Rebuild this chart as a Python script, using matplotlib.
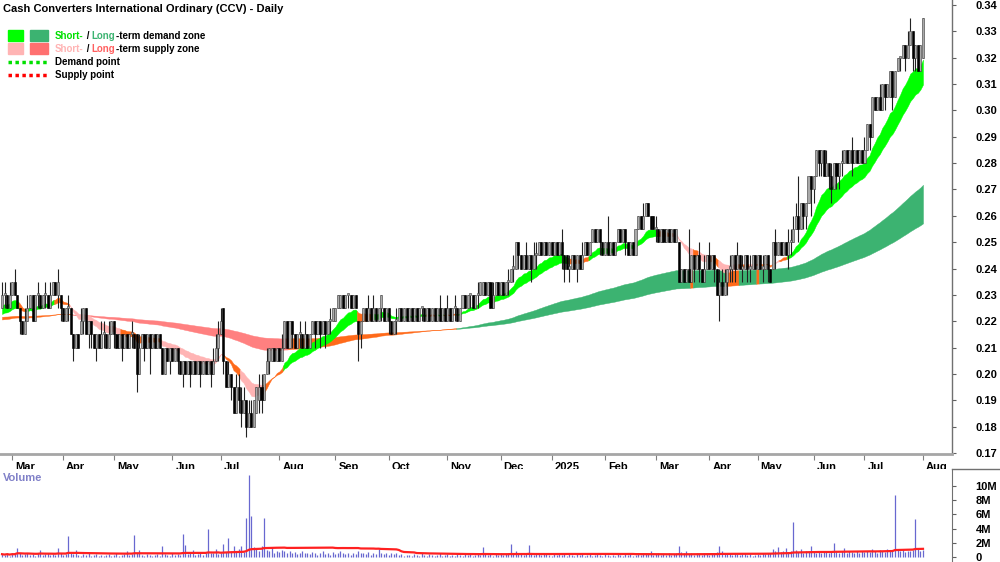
import numpy as np
import pandas as pd
import matplotlib
matplotlib.use("Agg")
import matplotlib.pyplot as plt
import matplotlib.transforms as mtransforms
from matplotlib.patches import Rectangle
from matplotlib.lines import Line2D

plt.rcParams['font.family'] = ['Liberation Sans', 'DejaVu Sans']

# ---------------- data (prices in tenths of a cent) ----------------
holidays = ['2024-03-29', '2024-04-01', '2024-04-25', '2024-06-10', '2024-12-25',
            '2024-12-26', '2025-01-01', '2025-01-27', '2025-04-18', '2025-04-21',
            '2025-04-25', '2025-06-09']

opens = [225,230,230,225,230,235,230,225,220,215, 220,225,230,220,230,230,225,230,230,225,
         230,235,230,230,225,220,225,225,215,210, 215,215,220,225,215,220,215,210,215,210,
         215,215,210,215,220,215,210,215,210,215, 210,215,215,215,200,210,215,210,215,210,
         215,210,215,210,200,210,205,210,205,210, 205,200,205,200,205,200,205,200,205,200,
         205,200,205,200,205,210,215,225,205,195, 200,195,185,195,190,185,190,180,185,180,
         185,190,195,190,200,205,205,210,205,210, 205,210,220,210,220,215,210,215,215,210,
         215,210,215,220,215,220,215,220,215,220, 220,220,225,225,230,225,230,230,225,230,
         220,215,220,225,220,225,220,225,220,225, 225,220,225,220,215,220,220,225,220,225,
         220,225,220,225,220,225,225,220,225,220, 225,220,225,220,225,220,225,220,225,225,
         220,225,230,225,230,230,225,230,230,230, 235,230,235,225,230,235,230,235,230,235,
         235,240,240,250,245,240,245,240,245,240, 245,245,250,245,250,245,250,245,250,245,
         250,245,245,240,240,245,240,245,240,245, 250,245,250,255,250,255,250,245,250,245,
         250,245,250,255,250,255,250,245,250,245, 255,260,255,260,265,260,260,255,255,250,
         255,250,255,250,255,250,250,235,240,235, 240,235,245,240,245,240,235,240,245,240,
         245,240,230,235,230,235,240,240,245,240, 245,240,240,245,240,240,245,240,245,240,
         240,245,240,240,250,245,250,245,250,245, 250,250,255,260,255,265,260,265,275,270,
         275,285,280,285,275,280,275,270,280,275, 280,280,285,280,285,280,285,280,285,280,
         285,295,290,305,300,305,300,310,305,305, 315,305,315,320,320,325,320,325,330,320,
         325,315,320]
closes = [230,230,225,230,235,230,225,220,215,220, 225,230,220,230,230,225,230,230,225,230,
          235,230,235,225,220,225,225,215,210,215, 210,220,225,215,220,215,210,215,210,215,
          215,210,215,220,215,210,215,210,215,210, 215,215,210,200,210,215,210,215,210,215,
          210,215,210,200,210,205,210,205,210,205, 200,205,200,205,200,205,200,205,200,205,
          200,205,200,205,210,215,220,205,195,200, 195,185,195,190,185,190,180,185,180,190,
          195,195,190,200,205,210,210,205,210,205, 210,220,210,220,215,210,215,215,210,215,
          210,215,220,215,220,215,220,215,220,220, 225,225,230,230,225,230,230,225,230,225,
          215,220,225,220,225,220,225,220,225,230, 220,225,220,215,220,220,225,220,225,220,
          225,220,225,220,225,225,220,225,220,225, 220,225,220,225,220,225,220,225,225,220,
          225,230,225,230,230,225,230,230,235,235, 230,235,225,230,235,230,235,230,235,235,
          240,240,250,245,240,245,240,245,240,245, 245,250,245,250,245,250,245,250,245,250,
          245,240,240,240,245,240,245,240,245,250, 245,250,255,250,255,250,245,250,245,250,
          245,250,255,250,255,250,245,250,245,255, 260,255,260,265,260,255,255,255,250,255,
          250,255,250,255,250,255,235,240,235,240, 235,245,240,245,240,235,240,245,240,245,
          240,230,235,230,235,240,240,245,240,245, 240,240,245,240,240,245,240,245,240,240,
          245,240,235,250,245,250,245,250,245,250, 250,255,260,255,265,260,265,275,270,275,
          285,280,285,275,280,275,270,280,275,280, 280,285,280,285,280,285,280,285,280,285,
          295,290,305,300,305,300,310,305,310,315, 305,315,320,320,325,320,325,330,320,325,
          315,325,335]
highs = [235,235,230,235,235,240,230,225,220,225, 230,230,230,230,235,230,230,235,230,235,
         235,235,240,230,225,225,230,225,215,215, 215,225,225,225,220,220,215,215,215,220,
         220,215,220,220,220,215,215,215,215,215, 215,220,215,215,215,215,215,215,215,215,
         215,215,215,210,210,210,210,210,210,210, 205,205,205,205,205,205,205,205,205,205,
         205,205,205,210,215,220,225,225,205,205, 200,195,200,200,195,195,190,190,190,190,
         195,200,200,200,210,210,210,210,210,210, 215,220,220,220,220,215,215,220,215,220,
         215,215,220,220,220,220,220,220,220,225, 225,225,230,230,230,230,230,230,230,230,
         220,220,225,225,230,225,230,225,225,230, 225,225,225,220,220,225,225,225,225,225,
         225,225,225,225,225,225,225,225,225,225, 225,225,230,225,225,230,225,225,230,225,
         225,230,230,230,230,230,230,235,235,235, 235,235,235,235,235,235,235,235,235,240,
         240,245,250,250,245,245,250,245,245,250, 250,250,250,250,250,250,250,250,250,250,
         255,245,245,245,245,245,245,245,250,250, 250,250,255,255,255,255,250,250,260,250,
         250,250,255,255,255,255,250,250,250,255, 260,260,265,265,265,260,260,260,255,255,
         255,255,255,255,255,255,250,240,240,240, 255,245,245,245,250,240,245,245,250,245,
         245,240,240,240,240,240,245,245,245,250, 245,245,245,245,245,245,245,245,245,245,
         245,245,240,250,255,250,250,250,250,255, 255,260,265,275,265,265,265,275,275,275,
         285,285,285,285,285,280,280,280,280,280, 285,285,285,285,290,285,285,285,285,290,
         295,295,305,305,305,310,310,310,310,315, 315,315,320,320,325,325,330,335,330,325,
         325,325,335]
lows = [225,225,225,225,230,230,225,215,215,215, 220,225,220,220,225,225,225,225,225,225,
        230,230,225,220,220,220,220,215,205,210, 210,215,215,215,210,210,210,205,210,210,
        210,210,210,215,210,210,210,205,210,210, 210,210,210,193,200,210,205,210,200,210,
        210,210,210,200,200,205,200,205,205,200, 200,195,200,200,195,200,200,200,195,200,
        200,200,195,200,205,205,215,200,195,195, 190,185,185,185,180,185,176,180,180,180,
        185,185,185,190,200,200,205,205,205,205, 205,210,210,210,210,210,210,210,210,210,
        210,210,215,210,215,210,215,210,215,215, 220,220,225,225,225,225,225,225,225,225,
        205,210,220,220,220,220,220,220,220,220, 220,220,215,215,215,215,220,220,220,220,
        220,220,220,220,220,220,220,220,220,220, 220,220,220,220,220,220,220,220,220,220,
        220,225,225,225,225,225,225,225,230,230, 230,230,225,225,230,230,230,230,230,230,
        235,235,240,240,240,240,240,240,235,240, 240,245,245,245,245,245,245,245,245,245,
        240,235,240,235,240,240,235,240,240,245, 245,245,250,250,250,245,245,245,245,245,
        245,245,250,250,250,245,245,245,245,245, 255,255,255,260,260,255,255,250,250,250,
        250,250,250,250,250,250,235,235,235,235, 235,235,235,240,235,235,235,240,240,240,
        235,230,220,230,230,230,235,235,235,240, 240,235,240,235,235,240,240,240,240,235,
        240,235,235,240,240,245,245,245,245,240, 245,250,255,250,255,255,255,265,260,265,
        275,275,275,275,275,270,265,270,270,270, 275,280,280,280,275,280,280,280,280,280,
        285,285,290,300,300,300,300,300,305,305, 300,305,315,315,320,315,320,325,315,315,
        315,315,320]
# daily volume in units of 0.1M shares
volume = [4,3,5,2,6,4,13,5,3,4, 6,3,4,2,5,10,3,4,6,3,
          4,3,13,5,3,4,30,6,4,10, 3,2,4,3,5,2,3,4,2,3,
          2,3,4,2,3,5,2,3,4,8, 3,4,31,5,10,3,2,4,3,2,
          3,4,2,15,4,3,2,5,3,4, 3,33,17,4,5,10,3,4,6,3,
          5,40,6,5,12,4,6,18,7,27, 8,15,9,12,16,7,55,115,58,14,
          12,9,15,55,10,8,14,6,9,7, 10,8,6,9,5,7,4,6,8,5,
          6,4,7,5,3,6,8,4,5,3, 7,4,6,9,5,4,6,3,5,4,
          8,5,6,4,7,3,5,4,12,6, 4,5,3,6,4,5,3,4,2,3,
          3,2,4,3,2,5,3,2,4,3, 2,3,5,2,3,4,2,3,2,4,
          3,2,4,3,5,2,3,4,3,14, 4,3,5,2,4,3,6,3,4,5,
          19,5,8,4,6,3,5,17,4,3, 5,4,3,6,4,3,2,5,3,4,
          3,4,2,5,3,2,4,3,5,2, 3,4,2,3,5,3,2,4,3,2,
          3,2,4,3,2,5,3,4,2,3, 4,3,5,6,4,8,3,4,5,3,
          4,3,5,3,4,6,15,7,5,9, 4,6,3,5,4,3,6,4,3,5,
          4,7,16,8,5,4,6,3,5,4, 3,4,5,3,4,2,3,4,3,5,
          4,5,6,12,8,14,7,9,13,6, 8,50,10,7,12,6,9,8,16,7,
          6,8,5,9,7,6,8,20,7,6, 9,13,6,8,7,5,9,6,8,7,
          9,7,11,8,6,10,9,7,12,8, 9,88,10,8,11,7,9,8,10,54, 12,8,10]

# zone colouring: (first bar, state) D=demand, S=supply, N=neutral
short_runs = [(0,'D'),(7,'N'),(10,'D'),(21,'N'),(27,'S'),(47,'N'),(63,'S'),(87,'N'),
              (94,'S'),(103,'N'),(111,'D'),(140,'N'),(146,'D'),(167,'N'),(171,'D'),
              (174,'N'),(179,'D'),(193,'N'),(194,'D'),(223,'N'),(231,'D'),(258,'N'),
              (264,'S'),(272,'N'),(274,'S'),(279,'N'),(282,'S'),(289,'N'),(294,'S'),
              (297,'N'),(303,'S'),(306,'N'),(309,'D')]
long_runs = [(0,'N'),(28,'S'),(113,'N'),(179,'D'),(271,'N'),(272,'D'),(285,'N'),
             (290,'D'),(297,'N'),(298,'D')]
short_periods = (15, 28)
long_periods = (130, 230)
short_seed = (0.2254, 0.2222)
long_seed = (0.2205, 0.2216)

month_labels = ['Mar','Apr','May','Jun','Jul','Aug','Sep','Oct','Nov','Dec',
                '2025','Feb','Mar','Apr','May','Jun','Jul','Aug']
price_ticks = [0.17,0.18,0.19,0.20,0.21,0.22,0.23,0.24,0.25,0.26,0.27,0.28,0.29,
               0.30,0.31,0.32,0.33,0.34]
vol_ticks = [0, 2, 4, 6, 8, 10]
vol_tick_labels = ['0', '2M', '4M', '6M', '8M', '10M']

# ---------------- preparation ----------------
dates = pd.bdate_range('2024-02-26', '2025-08-01', freq='C', holidays=holidays)
n = min(len(dates), len(closes))
o = np.array(opens[:n]) / 1000.0
c = np.array(closes[:n]) / 1000.0
h = np.array(highs[:n]) / 1000.0
l = np.array(lows[:n]) / 1000.0
v = np.array(volume[:n]) / 10.0
x = np.arange(n)

def ema(vals, period, seed):
    a = 2.0 / (period + 1)
    out = np.empty(len(vals))
    e = seed
    for i, val in enumerate(vals):
        e = e + a * (val - e)
        out[i] = e
    return out

sf = ema(c, short_periods[0], short_seed[0]); ss = ema(c, short_periods[1], short_seed[1])
lf = ema(c, long_periods[0], long_seed[0]); ls = ema(c, long_periods[1], long_seed[1])

def states(runs, n):
    st = [''] * n
    for k, (start, s) in enumerate(runs):
        end = runs[k+1][0] if k + 1 < len(runs) else n
        for i in range(start, min(end, n)):
            st[i] = s
    return st

short_cols = {'D': '#00ff00', 'S': '#ffb4b4', 'N': '#ff6a1a'}
long_cols = {'D': '#3cb371', 'S': '#ff8080', 'N': '#ff6a1a'}

fig = plt.figure(figsize=(10, 5.62), dpi=100)
ax = fig.add_axes([0, 1 - 454/562, 0.952, 454/562])
axv = fig.add_axes([0, 0, 0.952, (562 - 469)/562])

def draw_band(a, b, runs, cols):
    top = np.maximum(a, b); bot = np.minimum(a, b)
    st = states(runs, n)
    i = 0
    while i < n:
        j = i
        while j + 1 < n and st[j+1] == st[i]:
            j += 1
        if i > 0:
            xs = np.concatenate([[x[i] - 0.5], x[i:j+1]])
            tt = np.concatenate([[(top[i-1] + top[i]) / 2], top[i:j+1]])
            bb = np.concatenate([[(bot[i-1] + bot[i]) / 2], bot[i:j+1]])
        else:
            xs = x[i:j+1]; tt = top[i:j+1]; bb = bot[i:j+1]
        if j + 1 < n:
            xs = np.concatenate([xs, [x[j] + 0.5]])
            tt = np.concatenate([tt, [(top[j] + top[j+1]) / 2]])
            bb = np.concatenate([bb, [(bot[j] + bot[j+1]) / 2]])
        ax.fill_between(xs, bb, tt, color=cols[st[i]], lw=0.3, ec=cols[st[i]], zorder=2)
        i = j + 1

draw_band(lf, ls, long_runs, long_cols)
draw_band(sf, ss, short_runs, short_cols)

# candles
ax.vlines(x, l, h, color='#222222', lw=0.8, zorder=3)
up = c >= o
body_lo = np.minimum(o, c)
body_h = np.maximum(np.abs(c - o), 0.0008)
ax.bar(x[up], body_h[up], bottom=body_lo[up], width=0.8, color='#a9a9a9',
       edgecolor='#3a3a3a', linewidth=0.4, zorder=4)
ax.bar(x[~up], body_h[~up], bottom=body_lo[~up], width=0.8, color='#000000',
       edgecolor='#000000', linewidth=0.4, zorder=4)

xmin, xmax = -0.79, (950) / (921 / (n - 1))
ax.set_xlim(xmin, xmax)
ax.set_ylim(0.34 - 449/2635, 0.34 + 5/2635)

# month ticks
mt = []
for m in pd.date_range('2024-03-01', '2025-08-01', freq='MS'):
    idx = int(np.searchsorted(dates[:n], m))
    mt.append(idx)
ax.set_xticks(mt)
ax.set_xticklabels(month_labels[:len(mt)], ha='left', fontsize=8, fontweight='bold')
ax.tick_params(axis='x', direction='out', length=4, color='#808080', pad=2)
shift = mtransforms.ScaledTranslation(3/100, 0, fig.dpi_scale_trans)
for lab in ax.get_xticklabels():
    lab.set_transform(lab.get_transform() + shift)

ax.yaxis.tick_right()
ax.set_yticks(price_ticks)
ax.set_yticklabels(['%.2f' % t for t in price_ticks], fontsize=8, fontweight='bold')
ax.tick_params(axis='y', direction='out', length=3, color='#606060', pad=14)
for s in ['top', 'left']:
    ax.spines[s].set_visible(False)
ax.spines['bottom'].set_color('#a6a6a6'); ax.spines['bottom'].set_linewidth(2)
ax.spines['right'].set_color('#707070'); ax.spines['right'].set_linewidth(1)

# volume
axv.vlines(x, 0, v, color='#6868d0', lw=0.9)
vma = pd.Series(v).rolling(60, min_periods=1).mean().values
axv.plot(x, vma, color='#ff2020', lw=1.6)
axv.set_xlim(xmin, xmax)
axv.set_ylim(-0.7, 12.4)
axv.yaxis.tick_right()
axv.set_yticks(vol_ticks)
axv.set_yticklabels(vol_tick_labels, fontsize=8, fontweight='bold')
axv.tick_params(axis='y', direction='out', length=3, color='#606060', pad=14)
axv.set_xticks([])
for s in ['top', 'left', 'bottom']:
    axv.spines[s].set_visible(False)
axv.spines['right'].set_color('#707070')
axv.text(3/952, 1 - 9/93, 'Volume', transform=axv.transAxes, color='#8080c8',
         fontsize=8, fontweight='bold', va='center', ha='left')
fig.add_artist(Line2D([0.952, 1.0], [1 - 469/562, 1 - 469/562], transform=fig.transFigure,
                      color='#707070', lw=1))

# title and legend
def fx(px): return px / 1000.0
def fy(py): return 1 - py / 562.0

fig.text(fx(3), fy(9), 'Cash Converters International Ordinary (CCV) - Daily',
         fontsize=8, fontweight='bold', va='center', ha='left')

fig.add_artist(Rectangle((fx(8), fy(41)), fx(15), 11/562, transform=fig.transFigure, color='#00ff00'))
fig.add_artist(Rectangle((fx(30), fy(41)), fx(18), 11/562, transform=fig.transFigure, color='#3cb371'))
fig.add_artist(Rectangle((fx(8), fy(54)), fx(15), 11/562, transform=fig.transFigure, color='#ffb4b4'))
fig.add_artist(Rectangle((fx(30), fy(54)), fx(18), 11/562, transform=fig.transFigure, color='#ff7070'))
fig.add_artist(Line2D([fx(8), fx(48)], [fy(62), fy(62)], transform=fig.transFigure,
                      color='#00e000', lw=2.5, ls=(0, (1, 1))))
fig.add_artist(Line2D([fx(8), fx(48)], [fy(75), fy(75)], transform=fig.transFigure,
                      color='#ff0000', lw=2.5, ls=(0, (1, 1))))

renderer = fig.canvas.get_renderer()
def multitext(px, py, pieces):
    xx = fx(px)
    for txt, col in pieces:
        t = fig.text(xx, fy(py), txt, color=col, fontsize=7, fontweight='bold',
                     va='center', ha='left')
        bb = t.get_window_extent(renderer)
        xx = bb.x1 / fig.bbox.width

multitext(55, 36, [('Short-', '#00e000'), (' / ', 'black'), ('Long', '#3cb371'),
                   ('-term demand zone', 'black')])
multitext(55, 49, [('Short-', '#ffb4b4'), (' / ', 'black'), ('Long', '#ff6060'),
                   ('-term supply zone', 'black')])
multitext(55, 62, [('Demand point', 'black')])
multitext(55, 75, [('Supply point', 'black')])

fig.savefig('out.png', dpi=100)
